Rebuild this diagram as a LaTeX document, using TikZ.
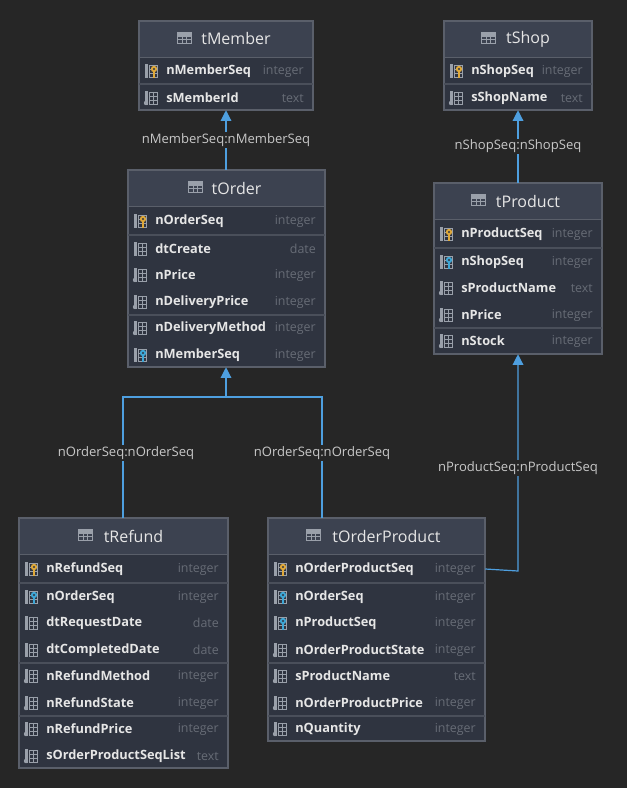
\documentclass[tikz,border=0pt]{standalone}
\usepackage{fontspec}
\setmainfont{Open Sans}
\usetikzlibrary{arrows.meta}
\definecolor{bg}{HTML}{262626}
\definecolor{hdr}{HTML}{3C4250}
\definecolor{bodyc}{HTML}{2F3440}
\definecolor{bord}{HTML}{5A5F6A}
\definecolor{sep}{HTML}{4A4F5A}
\definecolor{typec}{HTML}{676C76}
\definecolor{txt}{HTML}{E6E6E6}
\definecolor{lbl}{HTML}{C8C8C8}
\definecolor{link}{HTML}{4E9FDF}
\definecolor{icon}{HTML}{9AA0AA}
\definecolor{gold}{HTML}{E0A93A}
\definecolor{keyb}{HTML}{3FA7D6}
\tikzset{
 colname/.style={anchor=west,font=\bfseries\fontsize{9.6}{11}\selectfont,text=txt,inner sep=0},
 coltype/.style={anchor=east,font=\fontsize{9.3}{11}\selectfont,text=typec,inner sep=0},
 title/.style={font=\fontsize{12}{14}\selectfont,text=txt,inner sep=0},
 lab/.style={font=\fontsize{9.8}{12}\selectfont,text=lbl,inner sep=1pt,fill=bg},
 conn/.style={draw=link,line width=0.9pt},
 arr/.style={-{Triangle[open,fill=link,length=8pt,width=8pt]}},
}
% table frame: name, x1, x2, ytop, ybottom, title
\newcommand{\tbl}[6]{%
 \fill[bodyc] (#2,#4) rectangle (#3,#5);
 \fill[hdr] (#2,#4) rectangle (#3,#4+36);
 \draw[bord] (#2,#4+36) -- (#3,#4+36);
 \draw[bord,line width=0.8pt] (#2,#4) rectangle (#3,#5);
 \node[inner sep=0,minimum width={(#3-#2)*0.75pt},minimum height={(#5-#4)*0.75pt}] (#1) at ({(#2+#3)/2},{(#4+#5)/2}) {};
 \node[title] (#1t) at ({(#2+#3)/2+10},#4+18) {#6};
}
\newcommand{\tblicon}[2]{% x center, y center
 \draw[icon,line width=0.7pt] (#1-7,#2-6) rectangle (#1+7,#2+5);
 \draw[icon,line width=0.7pt] (#1-7,#2-2) -- (#1+7,#2-2) (#1-7,#2+1.5) -- (#1+7,#2+1.5) (#1-2,#2-2) -- (#1-2,#2+5) (#1+2.5,#2-2) -- (#1+2.5,#2+5);
 \fill[icon] (#1-7,#2-6) rectangle (#1+7,#2-2);
}
\newcommand{\colicon}[3]{% x, y, kind
 \fill[icon] (#1-7,#2-7) rectangle (#1-4,#2+7);
 \draw[icon,line width=0.7pt] (#1-3,#2-6) rectangle (#1+5,#2+6);
 \draw[icon,line width=0.6pt] (#1-3,#2-2) -- (#1+5,#2-2) (#1-3,#2+2) -- (#1+5,#2+2) (#1+1,#2-6) -- (#1+1,#2+6);
 \ifx#3k\fill[gold] (#1+2,#2-2) circle (3.2); \fill[gold] (#1+1,#2) rectangle (#1+3,#2+7);\fill[bodyc] (#1+2,#2-2) circle (1.2);\fi
 \ifx#3f\fill[keyb] (#1+2,#2-2) circle (3.2); \fill[keyb] (#1+1,#2) rectangle (#1+3,#2+7);\fill[bodyc] (#1+2,#2-2) circle (1.2);\fi
 \ifx#3n\fill[icon] (#1-6,#2+5) circle (2.2);\fi
}
% row: x1, x2, y, kind, name, type, nodename
\newcommand{\rw}[7]{%
 \colicon{#1+13}{#3}{#4}%
 \node[colname] (#7) at (#1+27,#3) {#5};
 \node[coltype] at (#2-9,#3) {#6};
}
\newcommand{\sepl}[3]{\draw[sep,line width=0.8pt] (#1,#3) -- (#2,#3);}
\begin{document}
\begin{tikzpicture}[x=0.75pt,y=-0.75pt]
\fill[bg] (0,0) rectangle (627,788);
\useasboundingbox (0,0) rectangle (627,788);
% tMember
\tbl{tMember}{139}{313}{21}{110}{tMember}
\tblicon{184}{38}
\rw{139}{313}{71}{k}{nMemberSeq}{integer}{m1}
\sepl{139}{313}{84}
\rw{139}{313}{98}{n}{sMemberId}{text}{m2}
% tShop
\tbl{tShop}{444}{592}{21}{110}{tShop}
\tblicon{488}{38}
\rw{444}{592}{71}{k}{nShopSeq}{integer}{s1}
\sepl{444}{592}{84}
\rw{444}{592}{98}{n}{sShopName}{text}{s2}
% tOrder
\tbl{tOrder}{128}{325}{170}{367}{tOrder}
\tblicon{195}{187}
\rw{128}{325}{221}{k}{nOrderSeq}{integer}{o1}
\sepl{128}{325}{235}
\rw{128}{325}{249}{c}{dtCreate}{date}{o2}
\rw{128}{325}{275}{n}{nPrice}{integer}{o3}
\rw{128}{325}{302}{n}{nDeliveryPrice}{integer}{o4}
\sepl{128}{325}{315}
\rw{128}{325}{328}{n}{nDeliveryMethod}{integer}{o5}
\rw{128}{325}{355}{f}{nMemberSeq}{integer}{o6}
% tProduct
\tbl{tProduct}{434}{602}{183}{354}{tProduct}
\tblicon{478}{200}
\rw{434}{602}{234}{k}{nProductSeq}{integer}{p1}
\sepl{434}{602}{248}
\rw{434}{602}{262}{f}{nShopSeq}{integer}{p2}
\rw{434}{602}{288}{n}{sProductName}{text}{p3}
\rw{434}{602}{315}{n}{nPrice}{integer}{p4}
\sepl{434}{602}{328}
\rw{434}{602}{341}{n}{nStock}{integer}{p5}
% tRefund
\tbl{tRefund}{19}{228}{518}{768}{tRefund}
\tblicon{85}{535}
\rw{19}{228}{569}{k}{nRefundSeq}{integer}{r1}
\sepl{19}{228}{583}
\rw{19}{228}{597}{f}{nOrderSeq}{integer}{r2}
\rw{19}{228}{623}{c}{dtRequestDate}{date}{r3}
\rw{19}{228}{650}{c}{dtCompletedDate}{date}{r4}
\sepl{19}{228}{663}
\rw{19}{228}{676}{n}{nRefundMethod}{integer}{r5}
\rw{19}{228}{703}{n}{nRefundState}{integer}{r6}
\sepl{19}{228}{716}
\rw{19}{228}{729}{n}{nRefundPrice}{integer}{r7}
\rw{19}{228}{756}{n}{sOrderProductSeqList}{text}{r8}
% tOrderProduct
\tbl{tOrderProduct}{268}{485}{518}{741}{tOrderProduct}
\tblicon{313}{535}
\rw{268}{485}{569}{k}{nOrderProductSeq}{integer}{op1}
\sepl{268}{485}{583}
\rw{268}{485}{597}{f}{nOrderSeq}{integer}{op2}
\rw{268}{485}{623}{f}{nProductSeq}{integer}{op3}
\rw{268}{485}{650}{n}{nOrderProductState}{integer}{op4}
\sepl{268}{485}{663}
\rw{268}{485}{676}{n}{sProductName}{text}{op5}
\rw{268}{485}{703}{n}{nOrderProductPrice}{integer}{op6}
\sepl{268}{485}{716}
\rw{268}{485}{729}{n}{nQuantity}{integer}{op7}
% connectors
\coordinate (xM) at (226,0);
\coordinate (xS) at (518,0);
\coordinate (xA) at (123,0);
\coordinate (xB) at (322,0);
\coordinate (jA) at (123,397);
\coordinate (jB) at (322,397);
\coordinate (jO) at (226,397);
\coordinate (jP) at (518,571);
\draw[conn,arr] (tOrder.north -| xM) -- (tMember.south -| xM) node[lab,midway] {nMemberSeq:nMemberSeq};
\draw[conn,arr] (tProduct.north -| xS) -- (tShop.south -| xS) node[lab,midway] {nShopSeq:nShopSeq};
\draw[conn,arr] (tRefund.north -| xA) -- (jA) -- (jO) -- (tOrder.south -| xM);
\draw[conn] (tOrderProduct.north -| xB) -- (jB) -- (jO);
\node[lab] at (126,453) {nOrderSeq:nOrderSeq};
\node[lab] at (322,453) {nOrderSeq:nOrderSeq};
\draw[conn,arr] (tOrderProduct.east |- op1) -- (jP) -- (tProduct.south -| xS);
\node[lab] at (518,468) {nProductSeq:nProductSeq};
\end{tikzpicture}
\end{document}
